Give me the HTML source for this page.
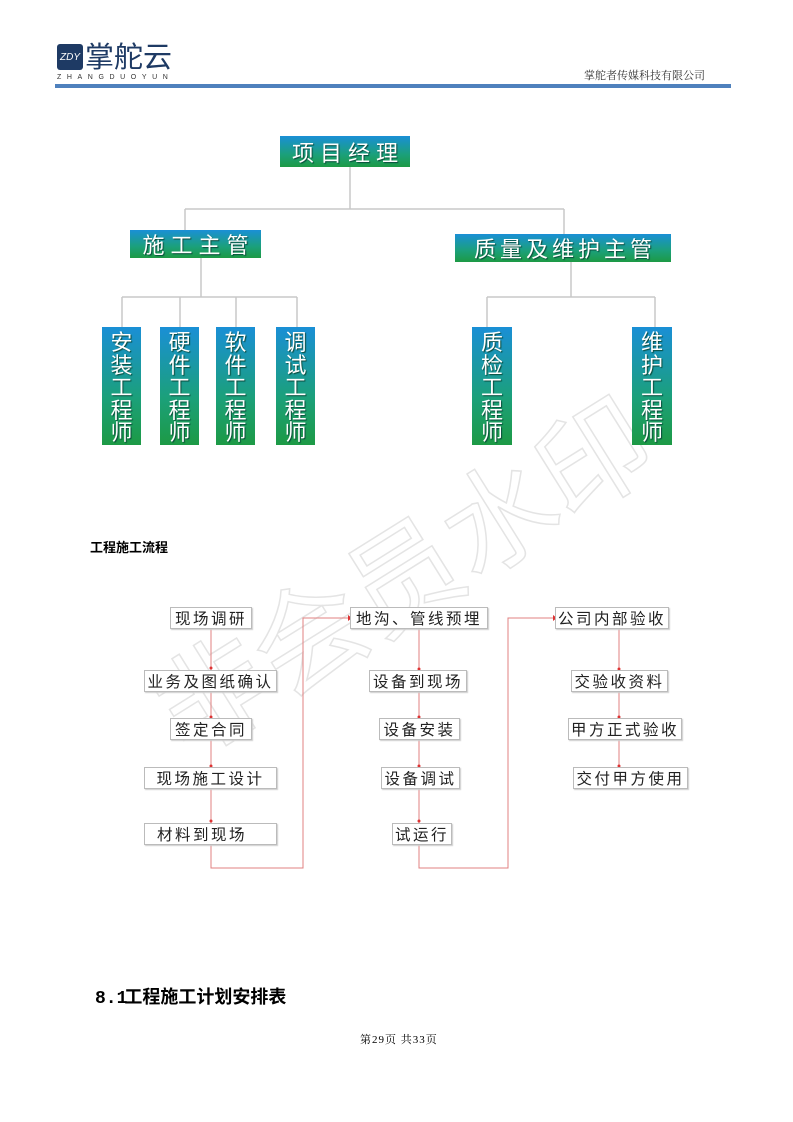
<!DOCTYPE html>
<html><head><meta charset="utf-8"><style>
body{margin:0;width:793px;height:1122px;position:relative;background:#fff;overflow:hidden;font-family:"Liberation Sans","Noto Sans CJK SC",sans-serif}
.a{position:absolute}
.g{position:absolute;background:linear-gradient(#1a8fd6,#1ba07a 60%,#1d9a45);color:#fff;text-shadow:1px 1px 1px #0a4a3a;display:flex;align-items:center;justify-content:center;font-family:"WenQuanYi Zen Hei","Noto Sans CJK SC",sans-serif;box-sizing:border-box}
.h{font-size:22px;letter-spacing:6px;padding-left:6px}
.v{font-size:22px;line-height:22.5px;flex-direction:column;text-align:center;padding-top:1px}
.b{position:absolute;border:1px solid #bbb;box-shadow:1px 1px 1px #ccc;background:#fff;font-size:15.5px;letter-spacing:2.5px;display:flex;align-items:center;justify-content:center;box-sizing:border-box;color:#222;white-space:nowrap;font-family:"WenQuanYi Zen Hei","Noto Sans CJK SC",sans-serif}
</style></head><body>
<div class="a" style="left:400px;top:570px;transform:translate(-50%,-50%) rotate(-32deg);font-size:112px;white-space:nowrap;color:transparent;-webkit-text-stroke:1.5px #e4e4e4;font-family:'Noto Sans CJK SC',sans-serif">非会员水印</div>

<div class="a" style="left:57px;top:44px;width:26px;height:26px;background:#1e3a64;border-radius:3px;color:#fff;font-size:10px;font-style:italic;display:flex;align-items:center;justify-content:center">ZDY</div>
<div class="a" style="left:85px;top:38px;font-size:29px;color:#1e3a64;line-height:34px;font-family:'Noto Sans CJK SC',sans-serif">掌舵云</div>
<div class="a" style="left:57px;top:74px;font-size:7px;letter-spacing:5.6px;color:#333">ZHANGDUOYUN</div>
<div class="a" style="left:584px;top:67px;font-size:11px;color:#333;font-family:'Noto Serif CJK SC',serif">掌舵者传媒科技有限公司</div>
<div class="a" style="left:55px;top:84px;width:676px;height:4px;background:#4f81bd"></div>

<svg class="a" style="left:0;top:0" width="793" height="1122">
<g stroke="#c8c8c8" stroke-width="1.5" fill="none">
<path d="M350 166V209M185 209H564M185 209V230M564 209V234M201 258V297M122 297H297M122 297V327M180 297V327M236 297V327M297 297V327M571 261V297M487 297H655M487 297V327M655 297V327"/>
</g>
<g stroke="#e08080" stroke-width="1" fill="none">
<path d="M211 628V823M211 844V868H303V618H348M419 628V823M419 844V868H508V618H553M619 628V768"/>
</g>
<g fill="#d33">
<path d="M348 615l4 3-4 3zM553 615l4 3-4 3z"/>
<circle cx="211" cy="668" r="1.5"/><circle cx="211" cy="717" r="1.5"/><circle cx="211" cy="766" r="1.5"/><circle cx="211" cy="821" r="1.5"/>
<circle cx="419" cy="669" r="1.5"/><circle cx="419" cy="717" r="1.5"/><circle cx="419" cy="766" r="1.5"/><circle cx="419" cy="821" r="1.5"/>
<circle cx="619" cy="669" r="1.5"/><circle cx="619" cy="717" r="1.5"/><circle cx="619" cy="766" r="1.5"/>
</g>
</svg>

<div class="g h" style="left:280px;top:136px;width:130px;height:31px">项目经理</div>
<div class="g h" style="left:130px;top:230px;width:131px;height:28px">施工主管</div>
<div class="g h" style="left:455px;top:234px;width:216px;height:28px;letter-spacing:4px;padding-left:4px">质量及维护主管</div>
<div class="g v" style="left:102px;top:327px;width:39px;height:118px">安<br>装<br>工<br>程<br>师</div>
<div class="g v" style="left:160px;top:327px;width:39px;height:118px">硬<br>件<br>工<br>程<br>师</div>
<div class="g v" style="left:216px;top:327px;width:39px;height:118px">软<br>件<br>工<br>程<br>师</div>
<div class="g v" style="left:276px;top:327px;width:39px;height:118px">调<br>试<br>工<br>程<br>师</div>
<div class="g v" style="left:472px;top:327px;width:40px;height:118px">质<br>检<br>工<br>程<br>师</div>
<div class="g v" style="left:632px;top:327px;width:40px;height:118px">维<br>护<br>工<br>程<br>师</div>

<div class="a" style="left:90px;top:537px;font-size:13px;font-weight:bold;color:#000">工程施工流程</div>

<div class="b" style="left:170px;top:607px;width:82px;height:22px">现场调研</div>
<div class="b" style="left:144px;top:670px;width:133px;height:22px">业务及图纸确认</div>
<div class="b" style="left:170px;top:718px;width:82px;height:22px">签定合同</div>
<div class="b" style="left:144px;top:767px;width:133px;height:22px">现场施工设计</div>
<div class="b" style="left:144px;top:823px;width:133px;height:22px;justify-content:flex-start;padding-left:12px">材料到现场</div>
<div class="b" style="left:350px;top:607px;width:138px;height:22px">地沟、管线预埋</div>
<div class="b" style="left:369px;top:670px;width:98px;height:22px">设备到现场</div>
<div class="b" style="left:379px;top:718px;width:81px;height:22px">设备安装</div>
<div class="b" style="left:381px;top:767px;width:79px;height:22px">设备调试</div>
<div class="b" style="left:392px;top:823px;width:60px;height:22px">试运行</div>
<div class="b" style="left:555px;top:607px;width:114px;height:22px">公司内部验收</div>
<div class="b" style="left:571px;top:670px;width:97px;height:22px">交验收资料</div>
<div class="b" style="left:568px;top:718px;width:114px;height:22px">甲方正式验收</div>
<div class="b" style="left:573px;top:767px;width:115px;height:22px">交付甲方使用</div>

<div class="a" style="left:95px;top:983px;font-size:18px;font-weight:bold;color:#000;font-family:'Liberation Mono','Noto Sans CJK SC',monospace">8.1<span style="font-family:'Noto Sans CJK SC',sans-serif;margin-left:-3px">工程施工计划安排表</span></div>
<div class="a" style="left:360px;top:1031px;font-size:11px;color:#000;letter-spacing:1px;font-family:'Liberation Serif','Noto Serif CJK SC',serif">第29页 共33页</div>
</body></html>
